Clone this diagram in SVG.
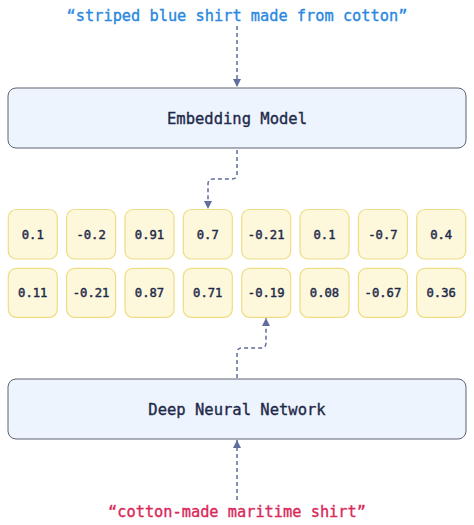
<svg xmlns="http://www.w3.org/2000/svg" width="474" height="525" viewBox="0 0 474 525">
<defs>
<style>
.mono{font-family:"DejaVu Sans Mono","Liberation Mono",monospace;}
.box{fill:#eef4fd;stroke:#5e6272;stroke-width:1;}
.cell{fill:#fdf8dc;stroke:#eedd85;stroke-width:1.2;}
.lbl{font-size:15.5px;fill:#1e2a4a;text-anchor:middle;stroke:#1e2a4a;stroke-width:0.35;}
.num{font-size:12.2px;fill:#1e2a4a;text-anchor:middle;stroke:#1e2a4a;stroke-width:0.45;}
.q{font-size:15.3px;text-anchor:middle;stroke-width:0.35;}
.conn{fill:none;stroke:#5f6e9e;stroke-width:1.5;stroke-dasharray:4 3;}
</style>
<marker id="ah" viewBox="0 0 10 10" refX="10" refY="5" markerWidth="8" markerHeight="8" markerUnits="userSpaceOnUse" orient="auto">
<path d="M0,0 L10,5 L0,10 Z" fill="#5f6e9e"/>
</marker>
</defs>
<rect width="474" height="525" fill="#ffffff"/>

<text class="mono q" x="237" y="21" fill="#2a88de" stroke="#2a88de">“striped blue shirt made from cotton”</text>
<text class="mono q" x="237" y="517" fill="#d9285a" stroke="#d9285a">“cotton-made maritime shirt”</text>

<g id="connectors">
<path class="conn" d="M237,26 L237,87" marker-end="url(#ah)"/>
<path class="conn" d="M237,150 L237,174 Q237,179 232,179 L213,179 Q208,179 208,184 L208,209" marker-end="url(#ah)"/>
<path class="conn" d="M237,378 L237,353 Q237,348 242,348 L261,348 Q266,348 266,343 L266,318" marker-end="url(#ah)"/>
<path class="conn" d="M237,500 L237,440" marker-end="url(#ah)"/>
</g>

<g id="embedding-model">
<rect class="box" x="8" y="88" width="458" height="60" rx="8"/>
<text class="mono lbl" x="237" y="124">Embedding Model</text>
</g>

<g id="deep-neural-network">
<rect class="box" x="8" y="379" width="458" height="60" rx="8"/>
<text class="mono lbl" x="237" y="415">Deep Neural Network</text>
</g>

<g id="vector-a">
<g id="a1"><rect class="cell" x="8.3" y="209.5" width="49" height="49.5" rx="8"/><text class="mono num" x="32.8" y="238.5">0.1</text></g>
<g id="a2"><rect class="cell" x="66.6" y="209.5" width="49" height="49.5" rx="8"/><text class="mono num" x="91.1" y="238.5">-0.2</text></g>
<g id="a3"><rect class="cell" x="125" y="209.5" width="49" height="49.5" rx="8"/><text class="mono num" x="149.5" y="238.5">0.91</text></g>
<g id="a4"><rect class="cell" x="183.3" y="209.5" width="49" height="49.5" rx="8"/><text class="mono num" x="207.8" y="238.5">0.7</text></g>
<g id="a5"><rect class="cell" x="241.7" y="209.5" width="49" height="49.5" rx="8"/><text class="mono num" x="266.2" y="238.5">-0.21</text></g>
<g id="a6"><rect class="cell" x="300" y="209.5" width="49" height="49.5" rx="8"/><text class="mono num" x="324.5" y="238.5">0.1</text></g>
<g id="a7"><rect class="cell" x="358.4" y="209.5" width="49" height="49.5" rx="8"/><text class="mono num" x="382.9" y="238.5">-0.7</text></g>
<g id="a8"><rect class="cell" x="416.7" y="209.5" width="49" height="49.5" rx="8"/><text class="mono num" x="441.2" y="238.5">0.4</text></g>
</g>

<g id="vector-b">
<g id="b1"><rect class="cell" x="8.3" y="268.3" width="49" height="49" rx="8"/><text class="mono num" x="32.8" y="297">0.11</text></g>
<g id="b2"><rect class="cell" x="66.6" y="268.3" width="49" height="49" rx="8"/><text class="mono num" x="91.1" y="297">-0.21</text></g>
<g id="b3"><rect class="cell" x="125" y="268.3" width="49" height="49" rx="8"/><text class="mono num" x="149.5" y="297">0.87</text></g>
<g id="b4"><rect class="cell" x="183.3" y="268.3" width="49" height="49" rx="8"/><text class="mono num" x="207.8" y="297">0.71</text></g>
<g id="b5"><rect class="cell" x="241.7" y="268.3" width="49" height="49" rx="8"/><text class="mono num" x="266.2" y="297">-0.19</text></g>
<g id="b6"><rect class="cell" x="300" y="268.3" width="49" height="49" rx="8"/><text class="mono num" x="324.5" y="297">0.08</text></g>
<g id="b7"><rect class="cell" x="358.4" y="268.3" width="49" height="49" rx="8"/><text class="mono num" x="382.9" y="297">-0.67</text></g>
<g id="b8"><rect class="cell" x="416.7" y="268.3" width="49" height="49" rx="8"/><text class="mono num" x="441.2" y="297">0.36</text></g>
</g>
</svg>
